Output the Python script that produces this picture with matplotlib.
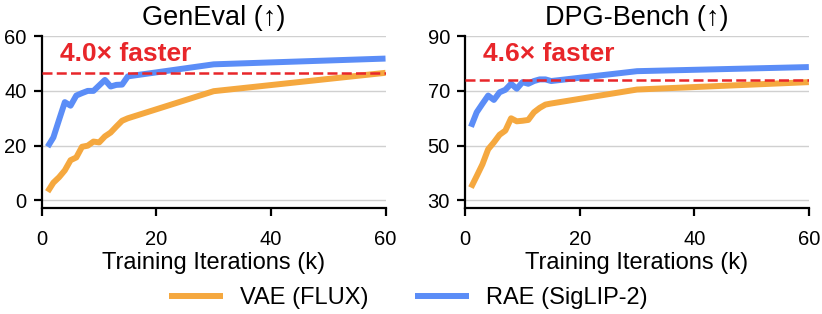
import numpy as np
import matplotlib
matplotlib.use("Agg")
import matplotlib.pyplot as plt

plt.rcParams['font.family'] = ['Liberation Sans', 'DejaVu Sans']

# training iterations (k)
iters = [1, 2, 3, 4, 5, 6, 7, 8, 9, 10, 11, 12, 13, 14, 15, 30, 60]

# GenEval
gen_vae = [3.2, 6.5, 8.5, 11, 14.7, 15.7, 19.6, 20, 21.5, 21.2, 23.4, 24.8, 27, 29.1, 30, 39.9, 46.6]
gen_rae = [19.6, 23, 29.5, 35.9, 34.6, 38.3, 39.2, 40, 40, 42, 44, 41.6, 42.2, 42.3, 45.3, 49.7, 51.8]
gen_target = 46.6

# DPG-Bench
dpg_vae = [34.7, 38.9, 43.2, 48.7, 51.2, 54, 55.5, 60, 58.9, 59.1, 59.4, 62.2, 63.8, 65, 65.4, 70.5, 73.2]
dpg_rae = [56.9, 62.2, 65.3, 68.3, 66.7, 69.5, 70.4, 72.6, 70.8, 73.2, 72.6, 73.6, 74.2, 74.2, 73.6, 77.2, 78.7]
dpg_target = 74.1

panels = [
    ("GenEval (\u2191)", gen_vae, gen_rae, gen_target, "4.0\u00d7 faster", [0, 20, 40, 60]),
    ("DPG-Bench (\u2191)", dpg_vae, dpg_rae, dpg_target, "4.6\u00d7 faster", [30, 50, 70, 90]),
]

c_vae = '#F5A83F'
c_rae = '#5B8DF7'
c_red = '#E8262A'

fig = plt.figure(figsize=(8.22, 3.14), dpi=100)
lefts = [0.051, 0.566]
for i, (title, vae, rae, target, txt, yt) in enumerate(panels):
    ax = fig.add_axes([lefts[i], 0.338, 0.418, 0.547])
    ax.plot(iters, vae, color=c_vae, lw=4.3, solid_capstyle='butt', label='VAE (FLUX)', zorder=3)
    ax.plot(iters, rae, color=c_rae, lw=4.3, solid_capstyle='butt', label='RAE (SigLIP-2)', zorder=3)
    ax.axhline(target, color=c_red, lw=1.8, ls=(0, (4, 1.7)), zorder=4)
    ax.text(3.1, yt[-1] - 6.4, txt, color=c_red, fontsize=19, fontweight='bold', va='center')
    ax.set_xlim(0, 60)
    ax.set_ylim(yt[0] - 2.7, yt[-1])
    ax.set_xticks([0, 20, 40, 60])
    ax.set_yticks(yt)
    ax.grid(axis='y', color='#d0d0d0', lw=1)
    ax.set_axisbelow(True)
    for s in ['top', 'right']:
        ax.spines[s].set_visible(False)
    for s in ['left', 'bottom']:
        ax.spines[s].set_linewidth(1.6)
    ax.tick_params(labelsize=14.5, width=1.6, length=6)
    ax.tick_params(axis='x', pad=10)
    ax.tick_params(axis='y', pad=5)
    ax.set_xlabel('Training Iterations (k)', fontsize=17, labelpad=2)
    ax.set_title(title, fontsize=19.5, pad=8)

handles, labels = ax.get_legend_handles_labels()
fig.legend(handles, labels, loc='center', bbox_to_anchor=(0.497, 0.05), ncol=2,
           frameon=False, fontsize=17, handlelength=2.3, columnspacing=1.95, handletextpad=0.72)

fig.savefig('out.png', dpi=100)
